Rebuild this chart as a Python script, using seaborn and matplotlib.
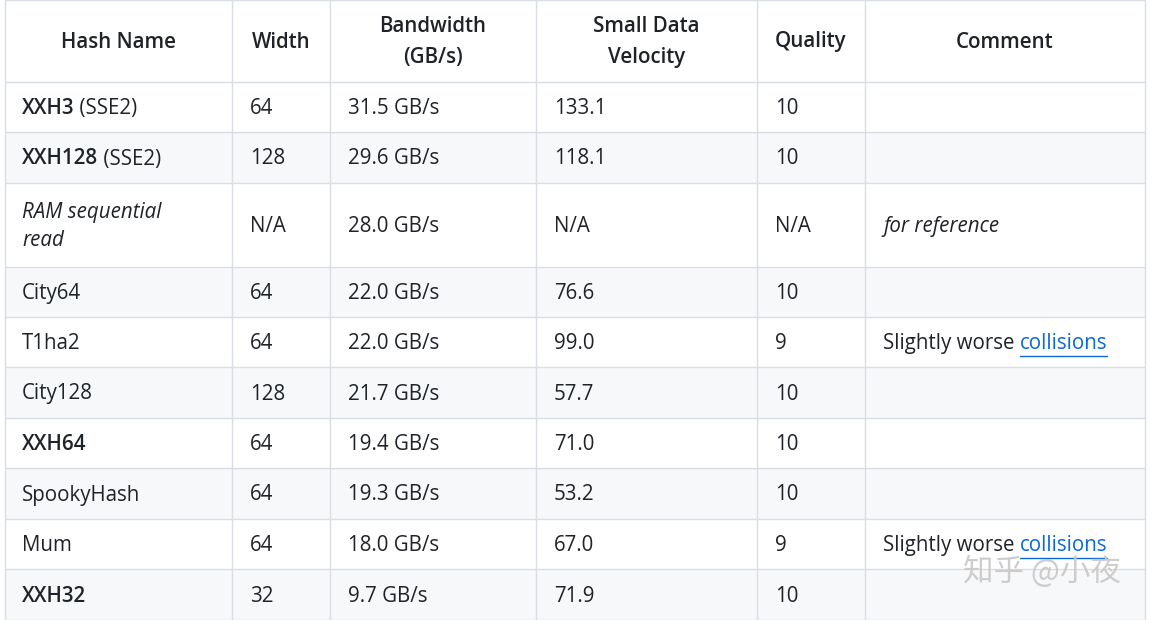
import matplotlib
matplotlib.use("Agg")
import matplotlib.pyplot as plt
import seaborn as sns

sns.set_style("white")
plt.rcParams['font.family'] = ['Open Sans', 'DejaVu Sans']

headers = ["Hash Name", "Width", "Bandwidth\n(GB/s)", "Small Data\nVelocity", "Quality", "Comment"]
names_bold = ["XXH3", "XXH128", "", "", "", "", "XXH64", "", "", "XXH32"]
names_plain = [" (SSE2)", " (SSE2)", "RAM sequential\nread", "City64", "T1ha2", "City128", "", "SpookyHash", "Mum", ""]
widths = ["64", "128", "N/A", "64", "64", "128", "64", "64", "64", "32"]
bandwidth = ["31.5 GB/s", "29.6 GB/s", "28.0 GB/s", "22.0 GB/s", "22.0 GB/s", "21.7 GB/s",
             "19.4 GB/s", "19.3 GB/s", "18.0 GB/s", "9.7 GB/s"]
velocity = ["133.1", "118.1", "N/A", "76.6", "99.0", "57.7", "71.0", "53.2", "67.0", "71.9"]
quality = ["10", "10", "N/A", "10", "9", "10", "10", "10", "9", "10"]
comment_plain = ["", "", "", "", "Slightly worse ", "", "", "", "Slightly worse ", ""]
comment_link = ["", "", "", "", "collisions", "", "", "", "collisions", ""]
italic_rows = [2]

col_x = [5, 232, 330, 536, 757, 865, 1145]
row_y = [0, 82, 132, 183, 267, 317, 367, 418, 468, 519, 569, 620]

border = "#d8dee4"
text_c = "#1f2328"
fs = 14.8

fig = plt.figure(figsize=(11.5, 6.2), dpi=100)
ax = fig.add_axes([0, 0, 1, 1])
ax.set_xlim(0, 1150)
ax.set_ylim(620, 0)
ax.axis("off")

for i in range(len(row_y) - 1):
    if i >= 1 and i % 2 == 0:
        ax.fill_between([col_x[0], col_x[-1]], row_y[i], row_y[i + 1], color="#f6f8fa", lw=0)
for y in row_y:
    ax.plot([col_x[0], col_x[-1]], [y, y], color=border, lw=1)
for x in col_x:
    ax.plot([x, x], [0, 620], color=border, lw=1)

for j, h in enumerate(headers):
    ax.text((col_x[j] + col_x[j + 1]) / 2, row_y[1] / 2 + 1, h, ha="center", va="center",
            fontsize=fs, color=text_c, fontweight="semibold", linespacing=1.65)

fig.canvas.draw()
r = fig.canvas.get_renderer()
inv = ax.transData.inverted()

for i in range(len(widths)):
    yc = (row_y[i + 1] + row_y[i + 2]) / 2 + 1.5
    style = "italic" if i in italic_rows else "normal"
    x0 = col_x[0] + 17
    if names_bold[i]:
        t = ax.text(x0, yc, names_bold[i], ha="left", va="center", fontsize=fs,
                    color=text_c, fontweight="semibold")
        bb = t.get_window_extent(r)
        x0 = inv.transform((bb.x1, bb.y0))[0]
    if names_plain[i]:
        ax.text(x0, yc, names_plain[i], ha="left", va="center", fontsize=fs, color=text_c,
                style=style, linespacing=1.4)
    for j, col in enumerate([widths, bandwidth, velocity, quality], start=1):
        ax.text(col_x[j] + 18, yc, col[i], ha="left", va="center", fontsize=fs, color=text_c)
    if i in italic_rows:
        ax.text(col_x[5] + 18, yc, "for reference", ha="left", va="center", fontsize=fs,
                color=text_c, style="italic")
    if comment_plain[i]:
        t = ax.text(col_x[5] + 18, yc, comment_plain[i], ha="left", va="center", fontsize=fs, color=text_c)
        bb = t.get_window_extent(r)
        xl = inv.transform((bb.x1, bb.y0))[0]
        t2 = ax.text(xl, yc, comment_link[i], ha="left", va="center", fontsize=fs, color="#0969da")
        bb2 = t2.get_window_extent(r)
        xr = inv.transform((bb2.x1, bb2.y0))[0]
        ax.plot([xl, xr], [yc + 12, yc + 12], color="#0969da", lw=1)

ax.text(1121, 572, "知乎 @小夜", ha="right", va="center", fontsize=22, color="#c8c8c8",
        family=["Noto Sans CJK SC", "DejaVu Sans"], alpha=0.9)

fig.savefig("out.png", dpi=100)
